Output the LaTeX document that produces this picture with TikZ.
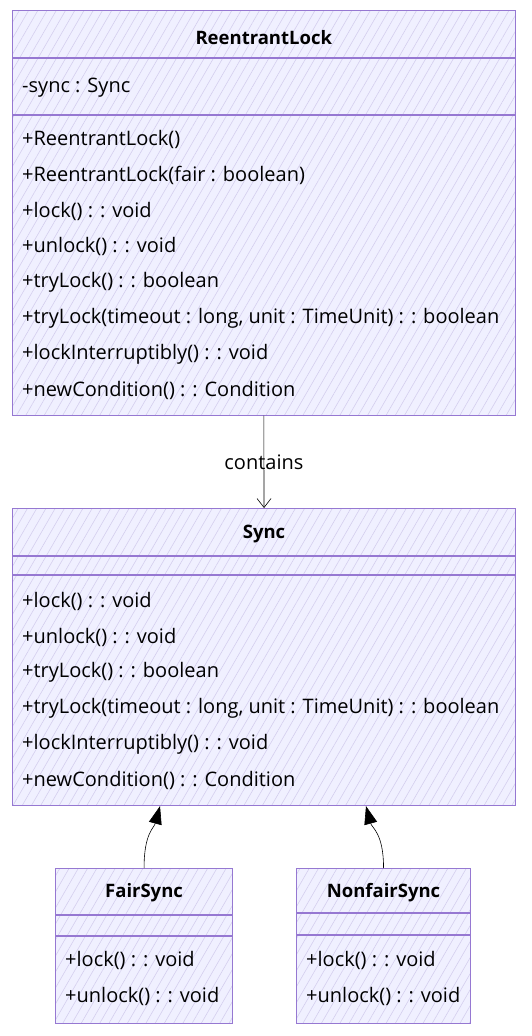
\documentclass[tikz,border=0pt]{standalone}
\usepackage{fontspec}
\setmainfont{Open Sans}
\usetikzlibrary{positioning,arrows.meta,calc,patterns.meta}
\definecolor{umlline}{RGB}{150,120,210}
\definecolor{umlfill}{RGB}{240,240,255}
\definecolor{hatch}{RGB}{212,206,238}
\tikzset{
    cls/.style={rectangle,draw=umlline,line width=1.1pt,preaction={fill=umlfill},pattern={Lines[angle=60,distance=8pt,line width=0.6pt]},pattern color=hatch,anchor=north west,inner sep=0pt},
    title/.style={inner sep=0pt,font=\bfseries\fontsize{18.5}{22}\selectfont},
    member/.style={anchor=west,inner sep=0pt,font=\fontsize{20}{24}\selectfont},
    sep/.style={draw=umlline,line width=1.1pt},
    arr/.style={-{Straight Barb[length=9pt,width=14pt]},semithick},
    inh/.style={-{Triangle[length=18pt,width=13pt]},semithick},
}

\begin{document}
\begin{tikzpicture}[x=1pt,y=-1pt]
\useasboundingbox (0,0) rectangle (532,1036);
% ReentrantLock
\node[cls,minimum width=503pt,minimum height=405pt] (rlock) at (12,10) {};
\draw[sep] ($(rlock.north west)+(0,48)$) -- ($(rlock.north east)+(0,48)$);
\draw[sep] ($(rlock.north west)+(0,105)$) -- ($(rlock.north east)+(0,105)$);
\node[title] (rlockT) at ($(rlock.north)+(0,28)$) {ReentrantLock};
\node[member] (ra1) at ($(rlock.north west)+(10,78)$) {-sync : Sync};
\node[member] (rm1) at ($(rlock.north west)+(10,129)$) {+ReentrantLock()};
\node[member] (rm2) at ($(rlock.north west)+(10,165)$) {+ReentrantLock(fair : boolean)};
\node[member] (rm3) at ($(rlock.north west)+(10,201)$) {+lock() : : void};
\node[member] (rm4) at ($(rlock.north west)+(10,236)$) {+unlock() : : void};
\node[member] (rm5) at ($(rlock.north west)+(10,272)$) {+tryLock() : : boolean};
\node[member] (rm6) at ($(rlock.north west)+(10,308)$) {+tryLock(timeout : long, unit : TimeUnit) : : boolean};
\node[member] (rm7) at ($(rlock.north west)+(10,344)$) {+lockInterruptibly() : : void};
\node[member] (rm8) at ($(rlock.north west)+(10,380)$) {+newCondition() : : Condition};
% Sync
\node[cls,minimum width=503pt,minimum height=297pt] (sync) at (12,508) {};
\draw[sep] ($(sync.north west)+(0,48)$) -- ($(sync.north east)+(0,48)$);
\draw[sep] ($(sync.north west)+(0,67)$) -- ($(sync.north east)+(0,67)$);
\node[title] (syncT) at ($(sync.north)+(0,26)$) {Sync};
\node[member] (sm1) at ($(sync.north west)+(10,93)$) {+lock() : : void};
\node[member] (sm2) at ($(sync.north west)+(10,129)$) {+unlock() : : void};
\node[member] (sm3) at ($(sync.north west)+(10,164)$) {+tryLock() : : boolean};
\node[member] (sm4) at ($(sync.north west)+(10,200)$) {+tryLock(timeout : long, unit : TimeUnit) : : boolean};
\node[member] (sm5) at ($(sync.north west)+(10,236)$) {+lockInterruptibly() : : void};
\node[member] (sm6) at ($(sync.north west)+(10,272)$) {+newCondition() : : Condition};
% FairSync
\node[cls,minimum width=177pt,minimum height=155pt] (fair) at (55,868) {};
\draw[sep] ($(fair.north west)+(0,47)$) -- ($(fair.north east)+(0,47)$);
\draw[sep] ($(fair.north west)+(0,68)$) -- ($(fair.north east)+(0,68)$);
\node[title] (fairT) at ($(fair.north)+(0,25)$) {FairSync};
\node[member] (fm1) at ($(fair.north west)+(10,92)$) {+lock() : : void};
\node[member] (fm2) at ($(fair.north west)+(10,128)$) {+unlock() : : void};
% NonfairSync
\node[cls,minimum width=174pt,minimum height=155pt] (nonfair) at (296,868) {};
\draw[sep] ($(nonfair.north west)+(0,45)$) -- ($(nonfair.north east)+(0,45)$);
\draw[sep] ($(nonfair.north west)+(0,67)$) -- ($(nonfair.north east)+(0,67)$);
\node[title] (nonfairT) at ($(nonfair.north)+(0,25)$) {NonfairSync};
\node[member] (nm1) at ($(nonfair.north west)+(10,92)$) {+lock() : : void};
\node[member] (nm2) at ($(nonfair.north west)+(10,128)$) {+unlock() : : void};
% relations
\draw[arr] (rlock.south) -- node[member,anchor=center] {contains} (sync.north);
\draw[inh] (fair.north) .. controls +(0,-35) and +(-6,22) .. ($(sync.south west)+(148,0)$);
\draw[inh] (nonfair.north) .. controls +(0,-35) and +(6,22) .. ($(sync.south west)+(354,0)$);
\end{tikzpicture}
\end{document}
